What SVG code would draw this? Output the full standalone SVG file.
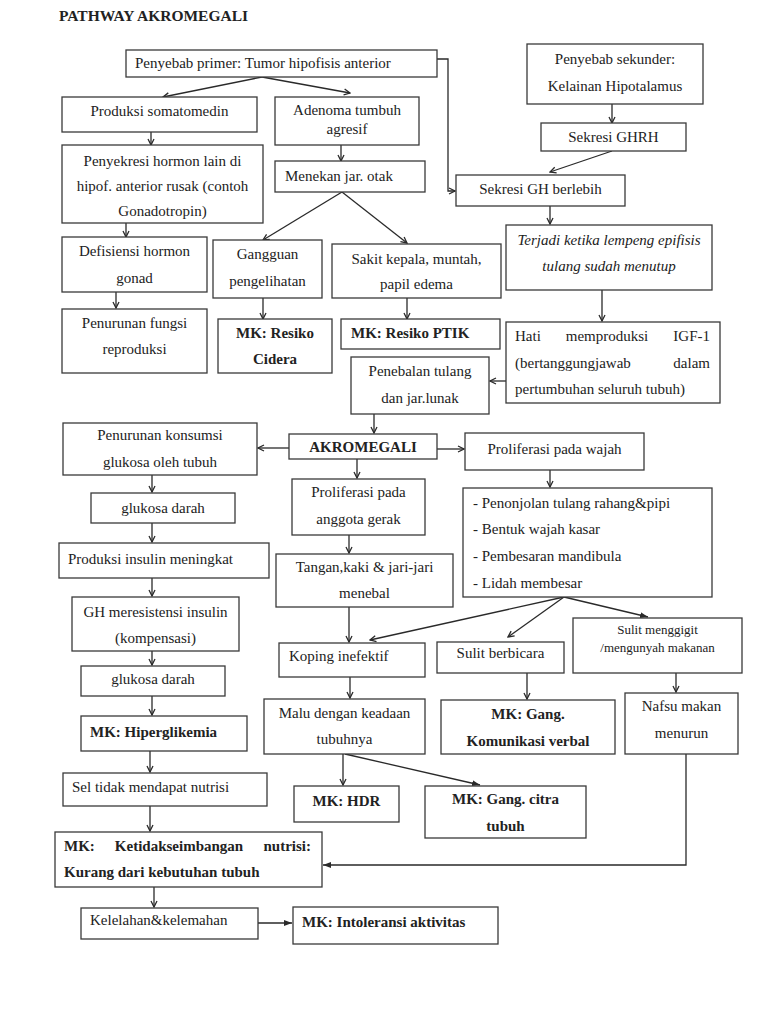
<svg xmlns="http://www.w3.org/2000/svg" width="768" height="1024" viewBox="0 0 768 1024">
<style>
rect{fill:#fff;stroke:#3a3a3a;stroke-width:1.3}
text{font-family:"Liberation Serif","Times New Roman",serif;font-size:15px;fill:#222}
.c{text-anchor:middle}
.e{text-anchor:end}
.b{font-weight:bold}
.i{font-style:italic}
.s{font-size:13px}
.t{font-size:15.5px}
#connectors path{fill:none;stroke:#2a2a2a;stroke-width:1.3}
.o{marker-end:url(#open)}
.f{marker-end:url(#fill)}
</style>
<defs>
<marker id="open" viewBox="0 0 8 8" refX="7" refY="4" markerWidth="8" markerHeight="8" markerUnits="userSpaceOnUse" orient="auto">
<path d="M1,1 L7,4 L1,7" fill="none" stroke="#2a2a2a" stroke-width="1.3"/>
</marker>
<marker id="fill" viewBox="0 0 8 6" refX="8" refY="3" markerWidth="8" markerHeight="6" markerUnits="userSpaceOnUse" orient="auto">
<path d="M0,0 L8,3 L0,6 z" fill="#2a2a2a"/>
</marker>
</defs>
<rect x="0" y="0" width="768" height="1024" style="fill:#fff;stroke:none"/>
<text x="59" y="21" class="b t">PATHWAY AKROMEGALI</text>

<g id="connectors">
<path class="o" d="M262,77 L163,97"/>
<path class="o" d="M262,77 L350,93"/>
<path class="o" d="M437,59 L448,59 L448,191 L455,191"/>
<path class="o" d="M151,132 L151,145"/>
<path class="o" d="M126,223 L126,237"/>
<path class="o" d="M116,292 L116,308"/>
<path class="o" d="M341,145 L341,161"/>
<path class="o" d="M342,192 L263,240"/>
<path class="o" d="M342,192 L407,243"/>
<path class="o" d="M263,298 L263,319"/>
<path class="o" d="M407,298 L407,319"/>
<path class="o" d="M612,104 L612,123"/>
<path class="o" d="M612,151 L550,172"/>
<path class="o" d="M550,206 L550,224"/>
<path class="o" d="M602,290 L602,321"/>
<path class="o" d="M506,381 L490,381"/>
<path class="o" d="M374,414 L374,433"/>
<path class="o" d="M289,448 L258,448"/>
<path class="o" d="M437,449 L464,449"/>
<path class="o" d="M357,459 L357,478"/>
<path class="o" d="M152,475 L152,492"/>
<path class="o" d="M152,523 L152,542"/>
<path class="o" d="M152,578 L152,596"/>
<path class="o" d="M152,651 L152,665"/>
<path class="o" d="M152,696 L152,715"/>
<path class="o" d="M150,751 L150,772"/>
<path class="o" d="M150,806 L150,831"/>
<path class="o" d="M154,887 L154,907"/>
<path class="f" d="M258,923 L292,923"/>
<path class="o" d="M550,470 L550,487"/>
<path class="o" d="M349,535 L349,553"/>
<path class="o" d="M349,607 L349,642"/>
<path class="o" d="M564,597 L370,640"/>
<path class="o" d="M564,597 L508,637"/>
<path class="f" d="M564,597 L648,617"/>
<path class="o" d="M350,677 L350,698"/>
<path class="o" d="M527,673 L527,699"/>
<path class="o" d="M676,673 L676,692"/>
<path class="o" d="M343,754 L343,785"/>
<path class="f" d="M345,754 L480,785"/>
<path class="f" d="M686,754 L686,865 L323,865"/>
</g>

<g id="primer"><rect x="126" y="50" width="311" height="27"/><text x="135" y="68">Penyebab primer: Tumor hipofisis anterior</text></g>
<g id="somatomedin"><rect x="62" y="97" width="195" height="35"/><text x="159.5" y="116" class="c">Produksi somatomedin</text></g>
<g id="adenoma"><rect x="275" y="97" width="144" height="48"/><text x="347" y="115" class="c">Adenoma tumbuh</text><text x="347" y="134" class="c">agresif</text></g>
<g id="penyekresi"><rect x="62" y="145" width="201" height="78"/><text x="162.5" y="166" class="c">Penyekresi hormon lain di</text><text x="162.5" y="191" class="c">hipof. anterior rusak (contoh</text><text x="162.5" y="216" class="c">Gonadotropin)</text></g>
<g id="menekan"><rect x="275" y="161" width="150" height="31"/><text x="285" y="181">Menekan jar. otak</text></g>
<g id="sekunder"><rect x="527" y="44" width="176" height="60"/><text x="615" y="64" class="c">Penyebab sekunder:</text><text x="615" y="91" class="c">Kelainan Hipotalamus</text></g>
<g id="ghrh"><rect x="541" y="123" width="145" height="28"/><text x="613.5" y="142" class="c">Sekresi GHRH</text></g>
<g id="gh"><rect x="456" y="175" width="169" height="31"/><text x="540.5" y="194" class="c">Sekresi GH berlebih</text></g>
<g id="terjadi"><rect x="506" y="225" width="206" height="65"/><text x="609" y="245" class="c i">Terjadi ketika lempeng epifisis</text><text x="609" y="271" class="c i">tulang sudah menutup</text></g>
<g id="defisiensi"><rect x="62" y="237" width="145" height="55"/><text x="134.5" y="256" class="c">Defisiensi hormon</text><text x="134.5" y="283" class="c">gonad</text></g>
<g id="gangguan"><rect x="213" y="240" width="109" height="58"/><text x="267.5" y="259" class="c">Gangguan</text><text x="267.5" y="286" class="c">pengelihatan</text></g>
<g id="sakit"><rect x="332" y="244" width="169" height="54"/><text x="416.5" y="264" class="c">Sakit kepala, muntah,</text><text x="416.5" y="289" class="c">papil edema</text></g>
<g id="reproduksi"><rect x="62" y="309" width="145" height="64"/><text x="134.5" y="328" class="c">Penurunan fungsi</text><text x="134.5" y="354" class="c">reproduksi</text></g>
<g id="cidera"><rect x="218" y="319" width="114" height="54"/><text x="275" y="338" class="c b">MK: Resiko</text><text x="275" y="364" class="c b">Cidera</text></g>
<g id="ptik"><rect x="341" y="319" width="159" height="30"/><text x="351" y="338" class="b">MK: Resiko PTIK</text></g>
<g id="hati"><rect x="506" y="322" width="214" height="81"/><text x="515" y="341">Hati</text><text x="607" y="341" class="c">memproduksi</text><text x="710" y="341" class="e">IGF-1</text><text x="515" y="368">(bertanggungjawab</text><text x="710" y="368" class="e">dalam</text><text x="515" y="394">pertumbuhan seluruh tubuh)</text></g>
<g id="penebalan"><rect x="351" y="357" width="138" height="57"/><text x="420" y="376" class="c">Penebalan tulang</text><text x="420" y="403" class="c">dan jar.lunak</text></g>
<g id="akromegali"><rect x="289" y="434" width="148" height="25"/><text x="363" y="452" class="c b">AKROMEGALI</text></g>
<g id="konsumsi"><rect x="63" y="423" width="194" height="52"/><text x="160" y="440" class="c">Penurunan konsumsi</text><text x="160" y="467" class="c">glukosa oleh tubuh</text></g>
<g id="wajah"><rect x="465" y="433" width="179" height="37"/><text x="554.5" y="454" class="c">Proliferasi pada wajah</text></g>
<g id="glukosa1"><rect x="91" y="493" width="144" height="30"/><text x="163" y="513" class="c">glukosa darah</text></g>
<g id="anggota"><rect x="292" y="479" width="133" height="56"/><text x="358.5" y="497" class="c">Proliferasi pada</text><text x="358.5" y="524" class="c">anggota gerak</text></g>
<g id="list"><rect x="463" y="488" width="249" height="109"/><text x="473" y="508">- Penonjolan tulang rahang&amp;pipi</text><text x="473" y="534">- Bentuk wajah kasar</text><text x="473" y="561">- Pembesaran mandibula</text><text x="473" y="588">- Lidah membesar</text></g>
<g id="insulin"><rect x="59" y="543" width="210" height="35"/><text x="68" y="564">Produksi insulin meningkat</text></g>
<g id="tangan"><rect x="276" y="554" width="177" height="53"/><text x="364.5" y="572" class="c">Tangan,kaki &amp; jari-jari</text><text x="364.5" y="598" class="c">menebal</text></g>
<g id="resistensi"><rect x="72" y="597" width="167" height="54"/><text x="155.5" y="617" class="c">GH meresistensi insulin</text><text x="155.5" y="643" class="c">(kompensasi)</text></g>
<g id="menggigit"><rect x="573" y="618" width="169" height="55"/><text x="657.5" y="634" class="c s">Sulit menggigit</text><text x="657.5" y="652" class="c s">/mengunyah makanan</text></g>
<g id="koping"><rect x="279" y="643" width="146" height="34"/><text x="289" y="661">Koping inefektif</text></g>
<g id="berbicara"><rect x="437" y="642" width="127" height="31"/><text x="500.5" y="658" class="c">Sulit berbicara</text></g>
<g id="glukosa2"><rect x="81" y="666" width="144" height="30"/><text x="153" y="684" class="c">glukosa darah</text></g>
<g id="nafsu"><rect x="625" y="693" width="113" height="61"/><text x="681.5" y="711" class="c">Nafsu makan</text><text x="681.5" y="738" class="c">menurun</text></g>
<g id="malu"><rect x="264" y="699" width="161" height="55"/><text x="344.5" y="718" class="c">Malu dengan keadaan</text><text x="344.5" y="744" class="c">tubuhnya</text></g>
<g id="komunikasi"><rect x="441" y="700" width="174" height="54"/><text x="528" y="719" class="c b">MK: Gang.</text><text x="528" y="746" class="c b">Komunikasi verbal</text></g>
<g id="hiperglikemia"><rect x="81" y="716" width="166" height="35"/><text x="90" y="737" class="b">MK: Hiperglikemia</text></g>
<g id="sel"><rect x="63" y="773" width="204" height="33"/><text x="72" y="792">Sel tidak mendapat nutrisi</text></g>
<g id="hdr"><rect x="294" y="786" width="105" height="36"/><text x="346.5" y="806" class="c b">MK: HDR</text></g>
<g id="citra"><rect x="425" y="786" width="161" height="52"/><text x="505.5" y="804" class="c b">MK: Gang. citra</text><text x="505.5" y="831" class="c b">tubuh</text></g>
<g id="ketidakseimbangan"><rect x="55" y="832" width="267" height="55"/><text x="64" y="851" class="b">MK:</text><text x="179" y="851" class="c b">Ketidakseimbangan</text><text x="311" y="851" class="e b">nutrisi:</text><text x="64" y="877" class="b">Kurang dari kebutuhan tubuh</text></g>
<g id="kelelahan"><rect x="81" y="908" width="177" height="31"/><text x="90" y="925">Kelelahan&amp;kelemahan</text></g>
<g id="intoleransi"><rect x="293" y="907" width="205" height="37"/><text x="302" y="927" class="b">MK: Intoleransi aktivitas</text></g>
</svg>
